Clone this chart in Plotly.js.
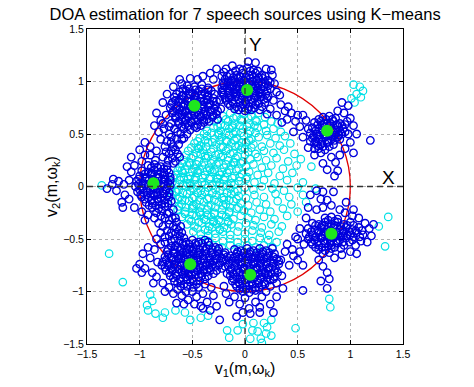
<!DOCTYPE html>
<html>
<head>
<meta charset="utf-8">
<script src="https://cdn.plot.ly/plotly-3.0.1.min.js"></script>
<style>html,body{margin:0;padding:0;background:#fff;}#chart{width:474px;height:387px;}</style>
</head>
<body>
<div id="chart"></div>
<script>
// Cyan (unassigned / low-confidence) points, [v1, v2]
const cyanCore = [
[-0.21,0.67],[-0.14,0.70],[-0.08,0.66],[-0.01,0.69],[0.06,0.67],[0.13,0.70],[0.19,0.66],
[-0.29,0.62],[-0.23,0.59],[-0.16,0.62],[-0.10,0.60],[-0.03,0.63],[0.04,0.60],[0.11,0.62],[0.18,0.59],[0.25,0.62],[0.31,0.60],
[-0.36,0.53],[-0.30,0.56],[-0.23,0.53],[-0.15,0.55],[-0.09,0.52],[-0.02,0.55],[0.05,0.53],[0.12,0.56],[0.20,0.53],[0.27,0.55],[0.34,0.52],
[-0.43,0.46],[-0.36,0.48],[-0.29,0.45],[-0.22,0.47],[-0.15,0.49],[-0.08,0.46],[-0.01,0.48],[0.06,0.45],[0.13,0.47],[0.21,0.49],[0.29,0.46],[0.38,0.48],
[-0.48,0.41],[-0.42,0.39],[-0.35,0.42],[-0.27,0.40],[-0.21,0.38],[-0.13,0.41],[-0.06,0.39],[0.01,0.42],[0.08,0.40],[0.16,0.38],[0.24,0.41],[0.33,0.39],[0.43,0.41],
[-0.54,0.34],[-0.46,0.32],[-0.40,0.35],[-0.32,0.33],[-0.25,0.31],[-0.18,0.34],[-0.11,0.32],[-0.04,0.35],[0.03,0.33],[0.10,0.31],[0.18,0.34],[0.27,0.32],[0.37,0.35],[0.47,0.31],
[-0.58,0.25],[-0.51,0.27],[-0.44,0.24],[-0.37,0.27],[-0.30,0.25],[-0.23,0.28],[-0.16,0.25],[-0.09,0.27],[-0.02,0.24],[0.05,0.26],[0.12,0.28],[0.20,0.25],[0.30,0.27],[0.41,0.24],[0.53,0.26],
[-0.62,0.18],[-0.55,0.20],[-0.48,0.17],[-0.41,0.20],[-0.34,0.18],[-0.27,0.21],[-0.20,0.18],[-0.13,0.20],[-0.06,0.17],[0.01,0.19],[0.08,0.21],[0.16,0.18],[0.25,0.20],[0.36,0.17],[0.49,0.20],[0.63,0.19],
[-0.66,0.11],[-0.59,0.13],[-0.52,0.10],[-0.45,0.13],[-0.38,0.11],[-0.31,0.14],[-0.24,0.11],[-0.17,0.13],[-0.10,0.10],[-0.03,0.12],[0.04,0.14],[0.12,0.11],[0.22,0.13],[0.33,0.10],[0.45,0.13],
[-0.69,0.04],[-0.62,0.06],[-0.55,0.03],[-0.48,0.06],[-0.41,0.04],[-0.34,0.07],[-0.27,0.04],[-0.20,0.06],[-0.13,0.03],[-0.06,0.05],[0.01,0.07],[0.09,0.04],[0.18,0.06],[0.28,0.03],[0.40,0.06],[0.55,0.04],
[-0.70,-0.01],[-0.63,-0.03],[-0.56,0.00],[-0.49,-0.02],[-0.42,-0.04],[-0.35,-0.01],[-0.28,-0.03],[-0.21,0.00],[-0.14,-0.02],[-0.07,-0.04],[0.00,-0.01],[0.08,-0.03],[0.16,0.00],[0.26,-0.02],[0.37,-0.04],[0.50,-0.01],[0.67,-0.02],
[-0.69,-0.08],[-0.62,-0.10],[-0.55,-0.07],[-0.48,-0.10],[-0.41,-0.08],[-0.34,-0.11],[-0.27,-0.08],[-0.20,-0.10],[-0.13,-0.07],[-0.06,-0.09],[0.01,-0.11],[0.09,-0.08],[0.18,-0.10],[0.29,-0.07],[0.42,-0.10],[0.55,-0.08],
[-0.67,-0.15],[-0.60,-0.17],[-0.53,-0.14],[-0.46,-0.17],[-0.39,-0.15],[-0.32,-0.18],[-0.25,-0.15],[-0.18,-0.17],[-0.11,-0.14],[-0.04,-0.16],[0.03,-0.18],[0.11,-0.15],[0.20,-0.17],[0.31,-0.14],[0.44,-0.17],[0.58,-0.15],
[-0.64,-0.22],[-0.57,-0.24],[-0.50,-0.21],[-0.43,-0.24],[-0.36,-0.22],[-0.29,-0.25],[-0.22,-0.22],[-0.15,-0.24],[-0.08,-0.21],[-0.01,-0.23],[0.06,-0.25],[0.14,-0.22],[0.24,-0.24],[0.36,-0.21],[0.50,-0.24],
[-0.60,-0.29],[-0.53,-0.31],[-0.46,-0.28],[-0.39,-0.31],[-0.32,-0.29],[-0.25,-0.32],[-0.18,-0.29],[-0.11,-0.31],[-0.04,-0.28],[0.03,-0.30],[0.10,-0.32],[0.18,-0.29],[0.28,-0.31],[0.40,-0.28],
[-0.55,-0.36],[-0.48,-0.38],[-0.41,-0.35],[-0.34,-0.38],[-0.27,-0.36],[-0.20,-0.39],[-0.13,-0.36],[-0.06,-0.38],[0.01,-0.35],[0.08,-0.37],[0.16,-0.39],[0.25,-0.36],[0.35,-0.38],
[-0.49,-0.43],[-0.42,-0.45],[-0.35,-0.42],[-0.28,-0.45],[-0.21,-0.43],[-0.14,-0.46],[-0.07,-0.43],[0.00,-0.45],[0.07,-0.42],[0.15,-0.44],[0.23,-0.46],[0.32,-0.43],
[-0.42,-0.50],[-0.35,-0.52],[-0.28,-0.49],[-0.21,-0.52],[-0.14,-0.50],[-0.07,-0.53],[0.00,-0.50],[0.07,-0.52],[0.14,-0.49],[0.22,-0.51],[0.30,-0.53],
[-0.30,-0.56],[-0.22,-0.58],[-0.14,-0.56],[-0.06,-0.58],[0.02,-0.56],[0.10,-0.58],[0.18,-0.56],[0.26,-0.58],
[-0.45,0.37],[-0.38,0.29],[-0.52,0.22],[-0.45,0.15],[-0.58,0.08],[-0.52,0.01],[-0.38,-0.05],[-0.60,-0.13],[-0.50,-0.19],[-0.42,-0.27],
[-0.30,-0.33],[-0.24,-0.41],[-0.18,0.44],[-0.25,0.51],[-0.12,0.58],[-0.33,0.16],[-0.26,0.08],[-0.20,-0.13],[-0.10,0.23],[-0.03,0.37],
[0.02,0.09],[-0.16,-0.33],[-0.35,-0.47],[-0.06,-0.20],[-0.65,-0.05],[-0.60,0.15]
];
// Denser left part of the cyan cloud
const cyanFill = [
[-0.18,0.64],[-0.11,0.65],[-0.04,0.64],[0.03,0.65],[0.10,0.63],
[-0.26,0.57],[-0.19,0.58],[-0.12,0.56],[-0.05,0.58],[0.02,0.57],[0.09,0.58],
[-0.39,0.50],[-0.32,0.51],[-0.25,0.49],[-0.18,0.51],[-0.11,0.50],[-0.04,0.51],[0.03,0.50],[0.10,0.51],
[-0.45,0.43],[-0.38,0.44],[-0.31,0.42],[-0.24,0.44],[-0.17,0.43],[-0.10,0.44],[-0.03,0.42],[0.04,0.44],
[-0.51,0.37],[-0.44,0.36],[-0.37,0.38],[-0.30,0.36],[-0.23,0.37],[-0.16,0.36],[-0.09,0.38],[0.00,0.36],[0.06,0.37],
[-0.56,0.30],[-0.49,0.29],[-0.42,0.31],[-0.35,0.29],[-0.28,0.30],[-0.21,0.29],[-0.14,0.31],[-0.07,0.29],[0.00,0.30],
[-0.60,0.22],[-0.53,0.23],[-0.46,0.21],[-0.39,0.23],[-0.32,0.22],[-0.25,0.23],[-0.18,0.21],[-0.11,0.23],[-0.04,0.22],
[-0.64,0.15],[-0.57,0.16],[-0.50,0.14],[-0.43,0.16],[-0.36,0.15],[-0.29,0.16],[-0.22,0.14],[-0.15,0.16],[-0.08,0.15],
[-0.68,0.08],[-0.61,0.09],[-0.54,0.07],[-0.47,0.09],[-0.40,0.08],[-0.33,0.09],[-0.26,0.07],[-0.19,0.09],[-0.12,0.08],[-0.05,0.09],
[-0.66,0.02],[-0.59,0.01],[-0.52,0.03],[-0.45,0.01],[-0.38,0.02],[-0.31,0.01],[-0.24,0.03],[-0.17,0.01],[-0.10,0.02],
[-0.66,-0.05],[-0.59,-0.06],[-0.52,-0.04],[-0.45,-0.06],[-0.38,-0.05],[-0.31,-0.06],[-0.24,-0.04],[-0.17,-0.06],[-0.10,-0.05],
[-0.64,-0.12],[-0.57,-0.13],[-0.50,-0.11],[-0.43,-0.13],[-0.36,-0.12],[-0.29,-0.13],[-0.22,-0.11],[-0.15,-0.13],[-0.08,-0.12],
[-0.63,-0.19],[-0.56,-0.20],[-0.49,-0.18],[-0.42,-0.20],[-0.35,-0.19],[-0.28,-0.20],[-0.21,-0.18],[-0.14,-0.20],
[-0.57,-0.26],[-0.50,-0.27],[-0.43,-0.25],[-0.36,-0.27],[-0.29,-0.26],[-0.22,-0.27],[-0.15,-0.25],
[-0.51,-0.33],[-0.44,-0.34],[-0.37,-0.32],[-0.30,-0.34],[-0.23,-0.33],[-0.16,-0.34],
[-0.45,-0.40],[-0.38,-0.41],[-0.31,-0.39],[-0.24,-0.41],[-0.17,-0.40]
];
const cyanOut = [
[1.03,0.97],[1.09,0.95],[1.06,0.88],[1.10,0.85],[1.01,0.84],[1.12,0.91],[1.04,0.80],
[1.36,-0.29],[1.27,-0.38],[1.33,-0.57],[0.80,-1.07],[0.81,-1.15],[0.48,-1.35],
[0.15,-1.45],[0.20,-1.40],[0.21,-1.34],[0.12,-1.38],[0.05,-1.45],[0.07,-1.37],[-0.07,-1.37],[-0.17,-1.37],
[-0.15,-1.44],[0.08,-1.30],[0.18,-1.30],[0.25,-1.27],[0.25,-1.42],[0.16,-1.49],[-0.02,-1.31],
[-1.36,0.01],[-1.29,-0.64],[-1.16,-0.91],[-0.90,-1.03],[-0.93,-1.13],[-0.88,-1.09],[-0.92,-1.18],[-0.85,-1.21],
[-0.78,-1.25],[-0.76,-1.20],[-0.66,-1.18],[-0.57,-1.20],[-0.52,-1.27],[-0.42,-1.25],[-0.35,-1.23]
];

// Blue clusters (points assigned to each of the 7 sources)
const blueA = [
[-0.55,0.96],[-0.48,0.95],[-0.41,0.97],[-0.35,0.94],
[-0.62,0.90],[-0.56,0.91],[-0.50,0.89],[-0.44,0.91],[-0.38,0.89],[-0.32,0.91],
[-0.67,0.85],[-0.60,0.86],[-0.54,0.84],[-0.48,0.86],[-0.42,0.84],[-0.36,0.86],[-0.30,0.84],
[-0.69,0.80],[-0.63,0.81],[-0.57,0.79],[-0.51,0.81],[-0.45,0.79],[-0.39,0.81],[-0.33,0.79],[-0.27,0.81],
[-0.71,0.75],[-0.65,0.74],[-0.59,0.76],[-0.53,0.74],[-0.47,0.76],[-0.41,0.74],[-0.35,0.76],[-0.29,0.74],
[-0.69,0.70],[-0.63,0.69],[-0.57,0.71],[-0.51,0.69],[-0.45,0.71],[-0.39,0.69],[-0.33,0.71],[-0.27,0.69],
[-0.66,0.65],[-0.60,0.64],[-0.54,0.66],[-0.48,0.64],[-0.42,0.66],[-0.36,0.64],[-0.31,0.66],
[-0.63,0.60],[-0.57,0.59],[-0.51,0.61],[-0.45,0.59],[-0.39,0.61],
[-0.58,0.55],[-0.52,0.54],[-0.46,0.56],
[-0.52,0.88],[-0.46,0.82],[-0.40,0.78],[-0.54,0.77],[-0.60,0.72],[-0.50,0.72],[-0.44,0.68],[-0.56,0.63],[-0.36,0.82],[-0.62,0.83],
[-0.33,1.08],[-0.27,1.12],[-0.30,1.02],[-0.22,1.05],[-0.45,1.02],[-0.60,0.98],[-0.68,0.95],[-0.74,0.88],[-0.78,0.80],[-0.84,0.70],
[-0.80,0.63],[-0.86,0.58],[-0.77,0.55],[-0.72,0.50],[-0.80,0.45],[-0.76,0.38],[-0.84,0.34],[-0.90,0.30],[-0.85,0.25],[-0.78,0.28],
[-0.70,0.42],[-0.66,0.35],[-0.72,0.31],[-0.68,0.22],[-0.74,0.20],[-0.62,0.28],[-0.60,0.45],[-0.55,0.50],[-0.64,0.52],[-0.70,0.60],
[-0.75,0.68],[-0.22,0.90],[-0.24,0.82],[-0.23,0.74],[-0.26,0.64],[-0.16,1.00],[-0.40,1.05],[-1.08,0.28],[-1.12,0.19],[-0.95,0.42],
[-0.62,1.02],[-0.52,1.03],[-0.18,1.12]
];
const blueAFill = [
[-0.59,0.93],[-0.53,0.93],[-0.47,0.92],[-0.41,0.93],[-0.35,0.92],
[-0.65,0.88],[-0.59,0.87],[-0.53,0.88],[-0.47,0.87],[-0.41,0.88],[-0.35,0.87],[-0.29,0.88],
[-0.66,0.82],[-0.60,0.83],[-0.54,0.81],[-0.48,0.83],[-0.42,0.81],[-0.36,0.83],[-0.30,0.81],
[-0.70,0.78],[-0.64,0.77],[-0.58,0.78],[-0.52,0.77],[-0.46,0.78],[-0.40,0.76],[-0.34,0.78],[-0.28,0.77],
[-0.68,0.72],[-0.62,0.73],[-0.56,0.72],[-0.50,0.74],[-0.44,0.73],[-0.38,0.72],[-0.32,0.73],[-0.26,0.72],
[-0.66,0.67],[-0.60,0.68],[-0.54,0.67],[-0.48,0.68],[-0.42,0.67],[-0.36,0.68],[-0.30,0.68],
[-0.63,0.62],[-0.57,0.63],[-0.51,0.62],[-0.45,0.63],[-0.39,0.63],[-0.34,0.62],
[-0.60,0.57],[-0.54,0.58],[-0.48,0.57],[-0.42,0.58],
[-0.70,0.47],[-0.65,0.45],[-0.68,0.38],[-0.63,0.40],[-0.70,0.34],[-0.64,0.31],[-0.69,0.27],[-0.66,0.24],[-0.73,0.25],[-0.75,0.33],
[-0.74,0.43],[-0.67,0.55],[-0.61,0.50],[-0.58,0.46],[-0.72,0.57],[-0.78,0.60],[-0.82,0.52]
];
const blueB = [
[-0.05,1.12],[0.02,1.13],[0.08,1.11],
[-0.14,1.07],[-0.08,1.06],[-0.02,1.08],[0.04,1.06],[0.10,1.08],[0.16,1.06],
[-0.19,1.02],[-0.13,1.01],[-0.07,1.03],[-0.01,1.01],[0.05,1.03],[0.11,1.01],[0.17,1.03],[0.22,1.01],
[-0.20,0.97],[-0.14,0.96],[-0.08,0.98],[-0.02,0.96],[0.04,0.98],[0.10,0.96],[0.16,0.98],[0.22,0.96],
[-0.21,0.92],[-0.15,0.91],[-0.09,0.93],[-0.03,0.91],[0.03,0.93],[0.09,0.91],[0.15,0.93],[0.21,0.91],
[-0.20,0.87],[-0.14,0.86],[-0.08,0.88],[-0.02,0.86],[0.04,0.88],[0.10,0.86],[0.16,0.88],[0.22,0.86],
[-0.18,0.82],[-0.12,0.81],[-0.06,0.83],[0.00,0.81],[0.06,0.83],[0.12,0.81],[0.18,0.83],
[-0.14,0.77],[-0.08,0.76],[-0.02,0.78],[0.04,0.76],[0.10,0.78],[0.16,0.76],
[-0.06,0.73],[0.00,0.72],[0.06,0.73],
[-0.05,0.95],[0.07,0.94],[0.01,0.89],[-0.11,0.89],[0.13,0.89],[-0.04,1.04],[0.08,1.04],[0.02,0.84],[-0.10,0.99],[0.13,0.99],
[0.10,1.18],[0.03,1.19],[-0.12,1.15],[0.20,1.12],[0.26,1.06],[0.28,0.98],[0.25,1.11],[0.30,0.90],[0.27,0.82],[0.34,0.78],
[0.38,0.72],[0.44,0.70],[0.40,0.64],[0.48,0.62],[0.30,0.68],[0.24,0.74],[0.52,0.57],[0.46,0.52],[0.55,0.47],[0.35,0.61],
[0.21,0.69],[0.33,0.87],[0.41,0.76],[0.50,0.68],[-0.20,1.09]
];
const blueBFill = [
[-0.09,1.10],[-0.02,1.11],[0.05,1.10],[0.12,1.10],
[-0.17,1.05],[-0.11,1.04],[-0.05,1.05],[0.01,1.04],[0.07,1.06],[0.13,1.04],[0.19,1.05],
[-0.21,0.99],[-0.16,0.99],[-0.11,1.00],[-0.05,0.99],[0.01,0.99],[0.07,1.00],[0.13,0.98],[0.19,0.99],[0.24,0.99],
[-0.22,0.94],[-0.17,0.94],[-0.12,0.95],[-0.06,0.93],[0.00,0.94],[0.06,0.95],[0.12,0.94],[0.18,0.95],[0.24,0.93],
[-0.21,0.89],[-0.16,0.89],[-0.10,0.90],[-0.04,0.89],[0.02,0.90],[0.08,0.89],[0.14,0.90],[0.20,0.88],
[-0.19,0.84],[-0.15,0.84],[-0.09,0.85],[-0.03,0.84],[0.03,0.85],[0.09,0.84],[0.15,0.85],[0.21,0.84],
[-0.16,0.79],[-0.11,0.79],[-0.05,0.80],[0.01,0.79],[0.07,0.80],[0.13,0.79],[0.19,0.80],
[-0.10,0.74],[-0.03,0.75],[0.03,0.74],[0.09,0.75],[0.14,0.73]
];
const blueC = [
[0.74,0.66],[0.80,0.67],[0.86,0.65],
[0.66,0.61],[0.72,0.62],[0.78,0.60],[0.84,0.62],[0.90,0.60],
[0.64,0.56],[0.70,0.55],[0.76,0.57],[0.82,0.55],[0.88,0.57],[0.93,0.55],
[0.62,0.51],[0.68,0.50],[0.74,0.52],[0.80,0.50],[0.86,0.52],[0.92,0.50],
[0.64,0.46],[0.70,0.45],[0.76,0.47],[0.82,0.45],[0.88,0.47],
[0.66,0.41],[0.72,0.40],[0.78,0.42],[0.84,0.40],
[0.70,0.36],[0.76,0.35],
[0.75,0.50],[0.81,0.58],[0.73,0.58],[0.79,0.44],[0.85,0.49],[0.69,0.48],
[0.88,0.72],[0.94,0.70],[0.98,0.77],[0.92,0.80],[1.00,0.65],[1.03,0.58],[0.98,0.50],[1.00,0.42],[0.95,0.36],[1.03,0.32],
[1.19,0.44],[0.90,0.30],[0.82,0.28],[0.74,0.22],[0.78,0.16],[0.85,0.10],[0.88,0.15],[0.58,0.63],[0.55,0.68],[0.60,0.37],
[0.66,0.30],[0.86,0.23],[1.06,0.50],[0.97,0.62]
];
const blueCFill = [
[0.77,0.64],[0.83,0.64],
[0.69,0.59],[0.75,0.60],[0.81,0.60],[0.87,0.59],[0.92,0.58],
[0.67,0.53],[0.73,0.54],[0.79,0.53],[0.85,0.54],[0.90,0.53],[0.95,0.52],
[0.65,0.48],[0.71,0.49],[0.77,0.48],[0.83,0.48],[0.89,0.49],
[0.67,0.43],[0.73,0.43],[0.79,0.42],[0.85,0.44],
[0.69,0.39],[0.74,0.38],[0.80,0.38],
[0.72,0.32],[0.66,0.36],[0.62,0.43],[0.60,0.55],[0.70,0.64],[0.95,0.59],[0.90,0.45]
];
const blueD = [
[-0.92,0.20],[-0.86,0.21],[-0.80,0.19],
[-0.98,0.15],[-0.92,0.14],[-0.86,0.16],[-0.80,0.14],[-0.74,0.16],
[-1.00,0.10],[-0.94,0.09],[-0.88,0.11],[-0.82,0.09],[-0.76,0.11],[-0.71,0.09],
[-1.03,0.05],[-0.97,0.04],[-0.91,0.06],[-0.85,0.04],[-0.79,0.06],[-0.73,0.04],
[-1.04,0.00],[-0.98,-0.01],[-0.92,0.01],[-0.86,-0.01],[-0.80,0.01],[-0.74,-0.01],
[-1.02,-0.05],[-0.96,-0.06],[-0.90,-0.04],[-0.84,-0.06],[-0.78,-0.04],[-0.72,-0.06],
[-0.98,-0.10],[-0.92,-0.11],[-0.86,-0.09],[-0.80,-0.11],[-0.74,-0.09],
[-0.94,-0.15],[-0.88,-0.16],[-0.82,-0.14],[-0.76,-0.16],
[-0.88,-0.20],[-0.82,-0.21],[-0.76,-0.19],
[-0.89,0.03],[-0.83,-0.02],[-0.95,0.07],[-0.77,0.07],[-0.87,-0.08],[-0.89,0.12],
[-1.10,0.06],[-1.15,0.02],[-1.20,0.05],[-1.26,0.02],[-1.31,-0.02],[-1.22,-0.04],[-1.14,-0.08],[-1.10,-0.12],[-1.17,-0.15],[-1.08,0.14],
[-1.05,0.20],[-0.98,0.24],[-0.95,0.30],[-1.00,0.35],[-0.90,0.38],[-1.05,-0.20],[-0.98,-0.24],[-0.92,-0.27],[-0.95,-0.32],[-0.86,-0.30],
[-0.80,-0.28],[-0.74,-0.26],[-0.78,-0.38],[-0.72,-0.36],[-0.70,-0.44],[-0.76,-0.48],[-0.70,-0.52],[-0.66,-0.30],[-0.65,-0.40],[-0.62,-0.47],
[-0.80,-0.55],[-0.73,-0.60],[-1.25,0.07],[-1.16,-0.20],[-0.68,-0.22],[-0.70,-0.14]
];
const blueDFill = [
[-0.89,0.18],[-0.83,0.18],[-0.77,0.17],
[-0.95,0.12],[-0.89,0.13],[-0.83,0.12],[-0.77,0.13],[-0.72,0.13],
[-1.01,0.07],[-0.94,0.08],[-0.88,0.07],[-0.82,0.08],[-0.76,0.07],[-0.71,0.06],
[-1.01,0.02],[-0.95,0.02],[-0.89,0.02],[-0.83,0.03],[-0.77,0.02],[-0.71,0.01],
[-1.00,-0.03],[-0.93,-0.03],[-0.87,-0.02],[-0.81,-0.03],[-0.75,-0.03],
[-0.99,-0.08],[-0.93,-0.08],[-0.89,-0.07],[-0.83,-0.08],[-0.77,-0.07],[-0.72,-0.10],
[-0.95,-0.12],[-0.89,-0.13],[-0.83,-0.12],[-0.77,-0.13],
[-0.91,-0.18],[-0.85,-0.18],[-0.79,-0.17],[-0.73,-0.16],
[-0.72,-0.25],[-0.69,-0.30],[-0.72,-0.32],[-0.68,-0.38],[-0.74,-0.42],[-0.66,-0.45],[-0.72,-0.47],[-0.67,-0.50],[-0.63,-0.42],[-0.61,-0.38],
[-0.76,-0.30],[-0.79,-0.23],[-0.65,-0.34],[-0.60,-0.44],[-0.58,-0.49],[-0.76,-0.53],[-0.66,-0.56],[-0.82,-0.35],[-0.84,-0.25]
];
const blueE = [
[0.76,-0.30],[0.82,-0.29],[0.88,-0.31],
[0.64,-0.35],[0.70,-0.36],[0.76,-0.34],[0.82,-0.36],[0.88,-0.34],[0.94,-0.36],[1.00,-0.34],
[0.60,-0.40],[0.66,-0.41],[0.72,-0.39],[0.78,-0.41],[0.84,-0.39],[0.90,-0.41],[0.96,-0.39],[1.02,-0.41],[1.08,-0.39],
[0.58,-0.45],[0.64,-0.46],[0.70,-0.44],[0.76,-0.46],[0.82,-0.44],[0.88,-0.46],[0.94,-0.44],[1.00,-0.46],[1.06,-0.44],[1.12,-0.46],
[0.60,-0.50],[0.66,-0.51],[0.72,-0.49],[0.78,-0.51],[0.84,-0.49],[0.90,-0.51],[0.96,-0.49],[1.02,-0.51],
[0.64,-0.55],[0.70,-0.56],[0.76,-0.54],[0.82,-0.56],[0.88,-0.54],[0.94,-0.56],
[0.70,-0.60],[0.76,-0.61],[0.82,-0.59],
[0.79,-0.43],[0.85,-0.47],[0.73,-0.47],[0.81,-0.52],[0.87,-0.38],[0.75,-0.38],[0.93,-0.47],
[0.62,-0.08],[0.68,-0.04],[0.72,-0.12],[0.60,-0.20],[0.68,-0.22],[0.74,-0.20],[0.82,-0.18],[0.90,-0.22],[0.95,-0.25],[1.02,-0.28],
[1.08,-0.30],[1.14,-0.35],[1.18,-0.40],[1.22,-0.36],[1.20,-0.47],[1.10,-0.52],[1.05,-0.56],[1.00,-0.62],[0.92,-0.65],[0.85,-0.68],
[0.70,-0.70],[0.74,-0.76],[0.78,-0.82],[0.72,-0.90],[0.80,-0.88],[0.56,-0.55],[0.52,-0.62],[0.50,-0.70],[0.55,-0.75],[0.46,-0.66],
[0.58,-0.30],[0.52,-0.40],[0.50,-0.50],[1.16,-0.53],[0.96,-0.15],[1.06,-0.64],[0.74,-0.05],[0.84,-0.05],[0.78,-0.13],[1.03,-0.22],
[0.78,-0.97]
];
const blueEFill = [
[0.79,-0.32],[0.85,-0.33],
[0.67,-0.37],[0.73,-0.37],[0.79,-0.38],[0.85,-0.37],[0.91,-0.38],[0.97,-0.37],[1.03,-0.37],
[0.63,-0.43],[0.69,-0.42],[0.75,-0.43],[0.81,-0.42],[0.87,-0.43],[0.93,-0.42],[0.99,-0.43],[1.05,-0.42],[1.11,-0.42],
[0.61,-0.48],[0.67,-0.48],[0.73,-0.49],[0.79,-0.48],[0.85,-0.48],[0.91,-0.48],[0.97,-0.47],[1.03,-0.48],[1.09,-0.48],
[0.63,-0.53],[0.69,-0.53],[0.75,-0.52],[0.81,-0.54],[0.87,-0.52],[0.93,-0.53],[0.99,-0.53],
[0.67,-0.58],[0.73,-0.58],[0.79,-0.57],[0.85,-0.58],[0.91,-0.59],
[0.74,-0.64],[0.80,-0.63]
];
const blueF = [
[-0.62,-0.52],[-0.56,-0.53],[-0.50,-0.51],[-0.44,-0.53],[-0.38,-0.51],
[-0.70,-0.57],[-0.64,-0.58],[-0.58,-0.56],[-0.52,-0.58],[-0.46,-0.56],[-0.40,-0.58],[-0.34,-0.56],[-0.28,-0.58],
[-0.74,-0.62],[-0.68,-0.63],[-0.62,-0.61],[-0.56,-0.63],[-0.50,-0.61],[-0.44,-0.63],[-0.38,-0.61],[-0.32,-0.63],[-0.26,-0.61],
[-0.76,-0.67],[-0.70,-0.68],[-0.64,-0.66],[-0.58,-0.68],[-0.52,-0.66],[-0.46,-0.68],[-0.40,-0.66],[-0.34,-0.68],[-0.28,-0.66],[-0.22,-0.68],
[-0.78,-0.72],[-0.72,-0.73],[-0.66,-0.71],[-0.60,-0.73],[-0.54,-0.71],[-0.48,-0.73],[-0.42,-0.71],[-0.36,-0.73],[-0.30,-0.71],[-0.24,-0.73],
[-0.76,-0.77],[-0.70,-0.78],[-0.64,-0.76],[-0.58,-0.78],[-0.52,-0.76],[-0.46,-0.78],[-0.40,-0.76],[-0.34,-0.78],[-0.28,-0.76],[-0.22,-0.78],
[-0.72,-0.82],[-0.66,-0.83],[-0.60,-0.81],[-0.54,-0.83],[-0.48,-0.81],[-0.42,-0.83],[-0.36,-0.81],[-0.30,-0.83],
[-0.68,-0.87],[-0.62,-0.88],[-0.56,-0.86],[-0.50,-0.88],[-0.44,-0.86],[-0.38,-0.88],
[-0.64,-0.92],[-0.58,-0.93],[-0.52,-0.91],[-0.46,-0.93],
[-0.55,-0.74],[-0.49,-0.70],[-0.61,-0.69],[-0.43,-0.75],[-0.57,-0.80],[-0.51,-0.84],[-0.45,-0.65],[-0.67,-0.75],[-0.39,-0.80],[-0.33,-0.70],
[-0.59,-0.63],[-0.53,-0.60],
[-0.86,-0.60],[-0.90,-0.68],[-0.95,-0.78],[-0.88,-0.82],[-0.84,-0.86],[-0.83,-0.72],[-0.78,-0.92],[-0.72,-0.96],[-0.76,-1.00],[-0.68,-1.02],
[-0.64,-0.98],[-0.60,-1.04],[-0.56,-1.00],[-0.54,-1.08],[-0.50,-1.00],[-0.46,-1.05],[-0.44,-0.96],[-0.40,-1.02],[-0.36,-1.10],[-0.42,-1.14],
[-0.48,-1.12],[-0.58,-1.12],[-0.33,-1.18],[-0.30,-1.04],[-0.38,-0.93],[-0.32,-0.96],[-1.00,-0.74],[-0.97,-0.64],[-0.92,-0.58],[-0.84,-0.50],
[-0.80,-0.44],[-1.03,-0.78],[-0.98,-0.82],[-0.87,-0.92],[-0.65,-1.11],[-0.40,-1.16],[-0.27,-1.14]
];
const blueFFill = [
[-0.59,-0.54],[-0.53,-0.55],[-0.47,-0.54],[-0.41,-0.54],[-0.35,-0.53],
[-0.67,-0.60],[-0.61,-0.59],[-0.55,-0.60],[-0.49,-0.59],[-0.43,-0.60],[-0.37,-0.59],[-0.31,-0.60],[-0.25,-0.59],
[-0.73,-0.65],[-0.67,-0.64],[-0.61,-0.65],[-0.55,-0.65],[-0.49,-0.64],[-0.43,-0.65],[-0.37,-0.64],[-0.31,-0.65],[-0.25,-0.64],[-0.19,-0.63],
[-0.75,-0.70],[-0.69,-0.70],[-0.63,-0.69],[-0.57,-0.70],[-0.51,-0.69],[-0.45,-0.70],[-0.39,-0.69],[-0.33,-0.73],[-0.27,-0.69],[-0.21,-0.71],
[-0.79,-0.75],[-0.73,-0.75],[-0.67,-0.74],[-0.61,-0.75],[-0.55,-0.77],[-0.49,-0.75],[-0.43,-0.77],[-0.37,-0.75],[-0.31,-0.75],[-0.25,-0.75],[-0.19,-0.76],
[-0.75,-0.80],[-0.69,-0.80],[-0.63,-0.79],[-0.57,-0.82],[-0.51,-0.79],[-0.45,-0.80],[-0.39,-0.79],[-0.33,-0.80],[-0.27,-0.80],
[-0.71,-0.85],[-0.65,-0.85],[-0.59,-0.84],[-0.53,-0.85],[-0.47,-0.84],[-0.41,-0.85],[-0.35,-0.85],
[-0.67,-0.90],[-0.61,-0.90],[-0.55,-0.89],[-0.49,-0.90],[-0.43,-0.90],
[-0.61,-0.95],[-0.55,-0.95],[-0.49,-0.96]
];
const blueG = [
[-0.10,-0.60],[-0.04,-0.61],[0.02,-0.59],[0.08,-0.61],[0.14,-0.59],[0.20,-0.61],[0.26,-0.59],
[-0.20,-0.65],[-0.14,-0.66],[-0.08,-0.64],[-0.02,-0.66],[0.04,-0.64],[0.10,-0.66],[0.16,-0.64],[0.22,-0.66],[0.28,-0.64],
[-0.18,-0.70],[-0.12,-0.71],[-0.06,-0.69],[0.00,-0.71],[0.06,-0.69],[0.12,-0.71],[0.18,-0.69],[0.24,-0.71],[0.30,-0.69],
[-0.16,-0.75],[-0.10,-0.76],[-0.04,-0.74],[0.02,-0.76],[0.08,-0.74],[0.14,-0.76],[0.20,-0.74],[0.26,-0.76],[0.32,-0.74],
[-0.14,-0.80],[-0.08,-0.81],[-0.02,-0.79],[0.04,-0.81],[0.10,-0.79],[0.16,-0.81],[0.22,-0.79],[0.28,-0.81],
[-0.14,-0.85],[-0.08,-0.86],[-0.02,-0.84],[0.04,-0.86],[0.10,-0.84],[0.16,-0.86],[0.22,-0.84],[0.28,-0.86],
[-0.12,-0.90],[-0.06,-0.91],[0.00,-0.89],[0.06,-0.91],[0.12,-0.89],[0.18,-0.91],[0.24,-0.89],
[-0.08,-0.95],[-0.02,-0.96],[0.04,-0.94],[0.10,-0.96],[0.16,-0.94],
[-0.02,-1.00],[0.04,-1.01],[0.10,-0.99],
[0.05,-0.83],[-0.01,-0.78],[0.11,-0.77],[0.07,-0.88],[-0.05,-0.88],[0.13,-0.68],[0.01,-0.67],[0.19,-0.83],[-0.11,-0.68],
[-0.20,-0.95],[-0.18,-1.02],[-0.15,-1.10],[-0.10,-1.05],[-0.05,-1.12],[0.00,-1.06],[-0.02,-1.20],[0.04,-1.16],[0.10,-1.10],[0.16,-1.05],
[0.20,-1.00],[0.24,-0.95],[0.30,-0.92],[0.35,-0.85],[0.34,-0.70],[0.38,-0.62],[0.40,-0.55],[0.45,-0.60],[0.48,-0.48],[0.42,-0.75],
[0.30,-1.05],[0.24,-1.12],[0.14,-1.15],[-0.08,-1.24],[0.05,-1.21],[-0.24,-1.27],[0.14,-1.20],[0.27,-1.20],[0.55,-0.99],[0.36,-0.97]
];
const blueGFill = [
[-0.07,-0.62],[-0.01,-0.63],[0.05,-0.62],[0.11,-0.63],[0.17,-0.62],[0.23,-0.63],
[-0.17,-0.67],[-0.09,-0.67],[-0.03,-0.68],[0.03,-0.67],[0.09,-0.68],[0.15,-0.67],[0.21,-0.68],[0.27,-0.67],
[-0.15,-0.73],[-0.09,-0.73],[-0.03,-0.72],[0.03,-0.73],[0.09,-0.72],[0.15,-0.73],[0.21,-0.72],[0.27,-0.73],[0.32,-0.71],
[-0.13,-0.78],[-0.07,-0.78],[-0.01,-0.77],[0.05,-0.78],[0.11,-0.79],[0.17,-0.78],[0.23,-0.77],[0.29,-0.78],
[-0.17,-0.83],[-0.11,-0.83],[-0.05,-0.82],[0.01,-0.83],[0.07,-0.82],[0.13,-0.83],[0.19,-0.82],[0.25,-0.83],[0.31,-0.82],
[-0.11,-0.88],[-0.03,-0.88],[0.03,-0.88],[0.09,-0.87],[0.15,-0.88],[0.21,-0.87],[0.27,-0.88],
[-0.09,-0.93],[-0.05,-0.93],[0.01,-0.92],[0.07,-0.93],[0.13,-0.92],[0.19,-0.93],
[-0.05,-0.98],[0.01,-0.98],[0.07,-0.98],[0.13,-0.97]
];

// Estimated DOA centroids (K-means)
const centroidX = [-0.48, 0.02, 0.78, -0.87, 0.82, -0.52, 0.05];
const centroidY = [ 0.77, 0.92, 0.53,  0.03, -0.45, -0.74, -0.84];

const tickVals = [-1.5, -1, -0.5, 0, 0.5, 1, 1.5];

const cyanPts = [].concat(cyanCore, cyanFill, cyanOut);
const bluePts = [].concat(blueA, blueAFill, blueB, blueBFill, blueC, blueCFill, blueD, blueDFill,
                          blueE, blueEFill, blueF, blueFFill, blueG, blueGFill);

const FONT = 'Liberation Sans, Arial, Helvetica, sans-serif';

const traces = [
  {
    type: 'scatter', mode: 'markers',
    x: cyanPts.map(p => p[0]), y: cyanPts.map(p => p[1]),
    marker: {symbol: 'circle-open', size: 7.5, color: '#00e0e6', line: {width: 1.2}},
    hoverinfo: 'skip'
  },
  {
    type: 'scatter', mode: 'markers',
    x: bluePts.map(p => p[0]), y: bluePts.map(p => p[1]),
    marker: {symbol: 'circle-open', size: 7.5, color: '#0000dd', line: {width: 1.35}},
    hoverinfo: 'skip'
  },
  {
    type: 'scatter', mode: 'markers',
    x: centroidX, y: centroidY,
    marker: {symbol: 'circle', size: 12, color: '#1ee61e', line: {width: 0}},
    hoverinfo: 'skip'
  }
];

const axisCommon = {
  range: [-1.5, 1.5],
  tickvals: tickVals,
  showgrid: true, gridcolor: '#b0b0b0', griddash: 'dot', gridwidth: 1,
  zeroline: false,
  showline: true, linecolor: '#000', linewidth: 1, mirror: 'ticks',
  ticks: 'inside', ticklen: 4, tickcolor: '#000',
  tickfont: {family: FONT, size: 10.5, color: '#000'}
};

const layout = {
  width: 474, height: 387,
  margin: {l: 87, r: 71, t: 29, b: 43},
  paper_bgcolor: '#fff', plot_bgcolor: '#fff',
  showlegend: false,
  title: {
    text: 'DOA estimation for 7 speech sources using K\u2212means',
    font: {family: FONT, size: 16.5, color: '#000'},
    x: 0.517, xanchor: 'center', y: 0.962, yanchor: 'middle', yref: 'container'
  },
  xaxis: Object.assign({}, axisCommon, {
    title: {text: 'v<sub>1</sub>(m,ω<sub>k</sub>)', font: {family: FONT, size: 16, color: '#000'}, standoff: 3}
  }),
  yaxis: Object.assign({}, axisCommon, {
    title: {text: 'v<sub>2</sub>(m,ω<sub>k</sub>)', font: {family: FONT, size: 16, color: '#000'}, standoff: 1}
  }),
  shapes: [
    {type: 'circle', xref: 'x', yref: 'y', x0: -1, y0: -1, x1: 1, y1: 1,
     line: {color: '#e00000', width: 1.3}, layer: 'between'},
    {type: 'line', xref: 'x', yref: 'y', x0: -1.5, y0: 0, x1: 1.5, y1: 0,
     line: {color: '#333', width: 1.3, dash: '6px,4px'}, layer: 'above'},
    {type: 'line', xref: 'x', yref: 'y', x0: 0, y0: -1.5, x1: 0, y1: 1.5,
     line: {color: '#333', width: 1.3, dash: '6px,4px'}, layer: 'above'}
  ],
  annotations: [
    {x: 1.36, y: 0.09, xref: 'x', yref: 'y', text: 'X', showarrow: false,
     font: {family: FONT, size: 19, color: '#000'}},
    {x: 0.1, y: 1.35, xref: 'x', yref: 'y', text: 'Y', showarrow: false,
     font: {family: FONT, size: 19, color: '#000'}}
  ]
};

Plotly.newPlot('chart', traces, layout, {staticPlot: true, displayModeBar: false});
</script>
</body>
</html>
